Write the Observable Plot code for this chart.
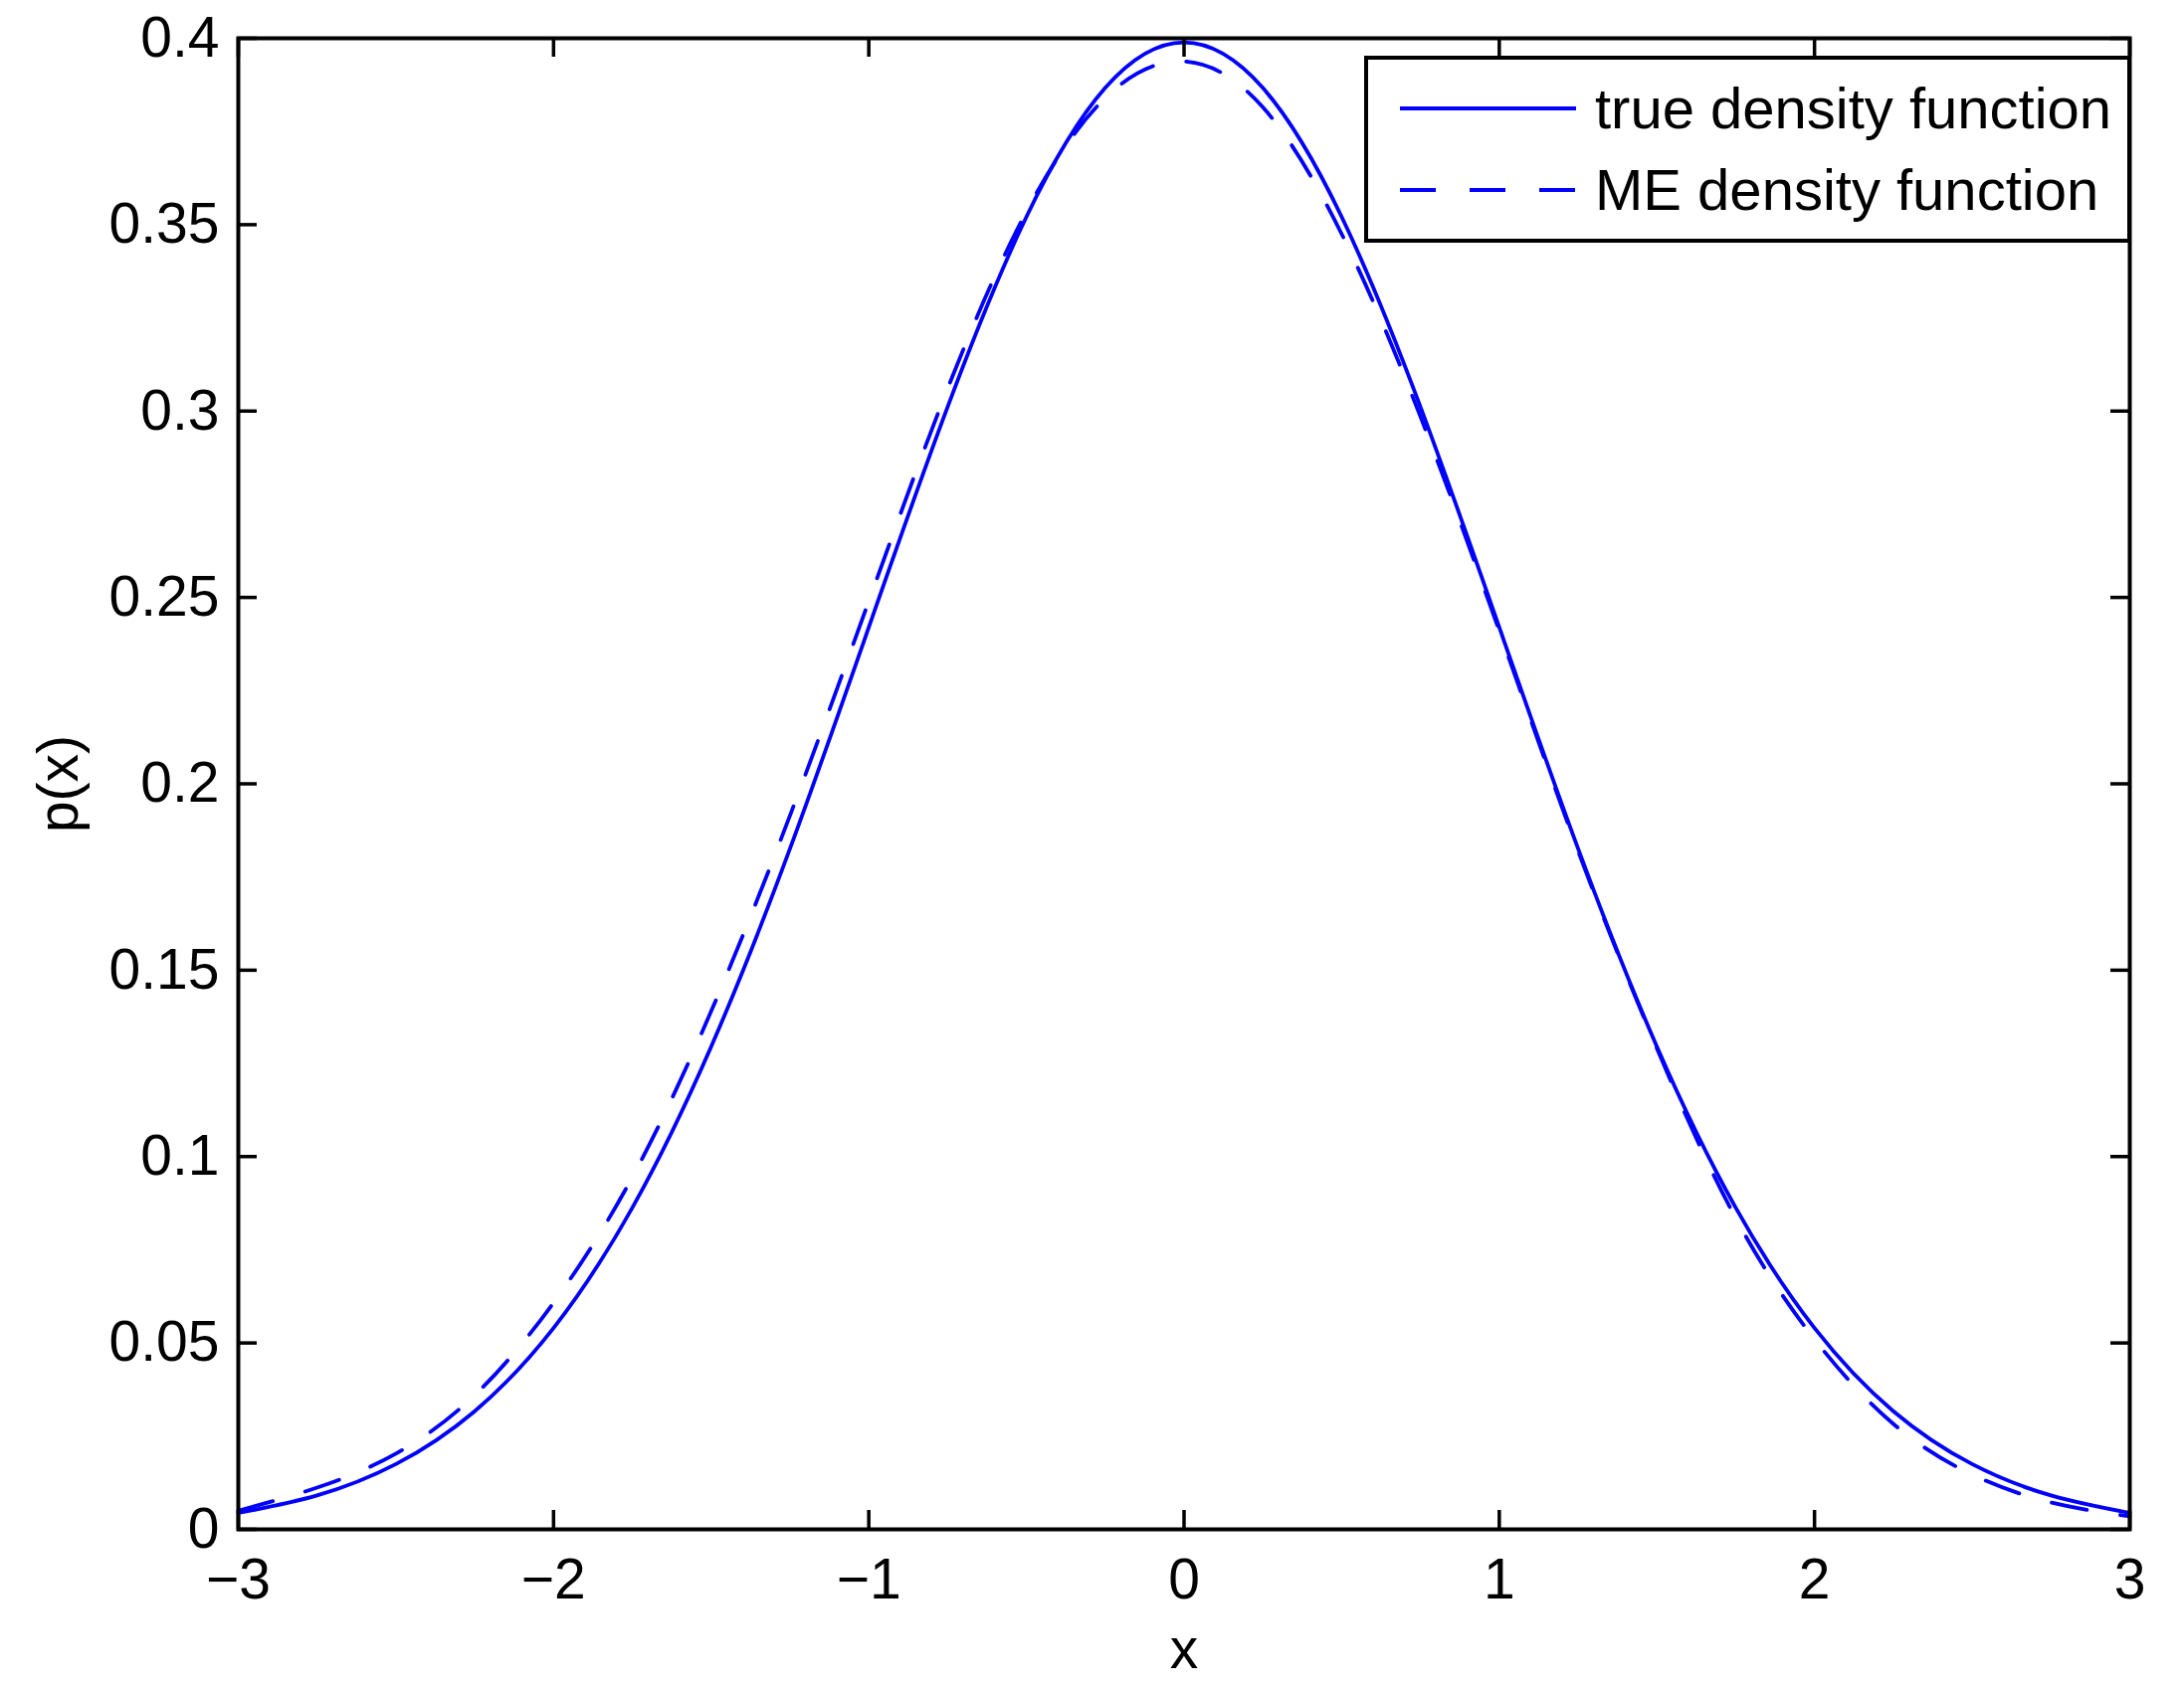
<!DOCTYPE html>
<html>
<head>
<meta charset="utf-8">
<script src="https://cdn.jsdelivr.net/npm/d3@7"></script>
<script src="https://cdn.jsdelivr.net/npm/@observablehq/plot@0.6"></script>
<style>
  html, body { margin: 0; padding: 0; background: #fff; overflow: hidden; }
  svg { display: block; }
</style>
</head>
<body>
<div id="chart"></div>
<script>
// ---- data ----
const xValues = [-3, -2.75, -2.5, -2.25, -2, -1.75, -1.5, -1.25, -1, -0.75, -0.5, -0.25, 0,
                 0.25, 0.5, 0.75, 1, 1.25, 1.5, 1.75, 2, 2.25, 2.5, 2.75, 3];
const trueDensity = [0.0044, 0.0091, 0.0175, 0.0317, 0.0540, 0.0863, 0.1295, 0.1826, 0.2420, 0.3011, 0.3521, 0.3867, 0.3989,
                     0.3867, 0.3521, 0.3011, 0.2420, 0.1826, 0.1295, 0.0863, 0.0540, 0.0317, 0.0175, 0.0091, 0.0044];
const meDensity   = [0.0050, 0.0112, 0.0203, 0.0360, 0.0608, 0.0945, 0.1390, 0.1915, 0.2490, 0.3060, 0.3535, 0.3840, 0.3938,
                     0.3815, 0.3475, 0.2985, 0.2410, 0.1820, 0.1290, 0.0835, 0.0510, 0.0283, 0.0147, 0.0072, 0.0035];
const seriesNames = ["true density function", "ME density function"];
const xTicks = [-3, -2, -1, 0, 1, 2, 3];
const yTicks = [0, 0.05, 0.1, 0.15, 0.2, 0.25, 0.3, 0.35, 0.4];
const xLabel = "x";
const yLabel = "p(x)";

// ---- tables built from the arrays ----
const trueRows = xValues.map((x, i) => ({x, y: trueDensity[i]}));
const meRows = xValues.map((x, i) => ({x, y: meDensity[i]}));

const W = 2195, H = 1698;
const mL = 239, mR = 55, mT = 38, mB = 161;
const plotW = W - mL - mR, plotH = H - mT - mB;
const tickLen = 19;
const FONT = "'Liberation Sans', Arial, Helvetica, sans-serif";
const fmt = d3.format("~g");
const LINE_W = 3.8;
const DASH = "36,34";

const chart = Plot.plot({
  width: W,
  height: H,
  marginLeft: mL,
  marginRight: mR,
  marginTop: mT,
  marginBottom: mB,
  style: {fontFamily: FONT, fontSize: "56px", color: "black", background: "white"},
  x: {domain: [-3, 3], ticks: xTicks, tickFormat: fmt},
  y: {domain: [0, 0.4], ticks: yTicks, tickFormat: fmt},
  marks: [
    Plot.line(trueRows, {x: "x", y: "y", stroke: "#0000ff", strokeWidth: LINE_W, curve: "natural"}),
    Plot.line(meRows, {x: "x", y: "y", stroke: "#0000ff", strokeWidth: LINE_W, curve: "natural", strokeDasharray: DASH}),
    // inward ticks on all four sides
    Plot.tickX(xTicks, {x: d => d, stroke: "black", strokeWidth: 3.5, insetTop: plotH - tickLen}),
    Plot.tickX(xTicks, {x: d => d, stroke: "black", strokeWidth: 3.5, insetBottom: plotH - tickLen}),
    Plot.tickY(yTicks, {y: d => d, stroke: "black", strokeWidth: 3.5, insetRight: plotW - tickLen}),
    Plot.tickY(yTicks, {y: d => d, stroke: "black", strokeWidth: 3.5, insetLeft: plotW - tickLen}),
    Plot.axisX(xTicks, {tickSize: 0, tickPadding: 29, fontSize: 57, tickFormat: fmt, label: null}),
    Plot.axisY(yTicks, {tickSize: 0, tickPadding: 19, fontSize: 57, tickFormat: fmt, label: null}),
    Plot.frame({stroke: "black", strokeWidth: 4}),
    Plot.text([xLabel], {frameAnchor: "bottom", dy: 121, lineAnchor: "middle", textAnchor: "middle", fontSize: 57, fill: "black"}),
    Plot.text([yLabel], {frameAnchor: "left", dx: -180, rotate: -90, lineAnchor: "middle", textAnchor: "middle", fontSize: 57, fill: "black"})
  ]
});

document.getElementById("chart").appendChild(chart);

// ---- legend (upper right, inside the axes) ----
const sx = chart.scale("x"), sy = chart.scale("y");
const frameRight = Math.max(...sx.range);
const frameTop = Math.min(...sy.range);
const boxW = 767, boxH = 184;
const bx = frameRight - boxW, by = frameTop + 20;
const svgSel = d3.select(chart);
const lg = svgSel.append("g")
  .attr("font-family", FONT)
  .attr("font-size", 58)
  .attr("text-anchor", "start");
lg.append("rect").attr("x", bx).attr("y", by).attr("width", boxW).attr("height", boxH)
  .attr("fill", "white").attr("stroke", "black").attr("stroke-width", 4);
const rowsY = [by + 51, by + 133];
const dashes = [null, DASH];
seriesNames.forEach((name, i) => {
  lg.append("line").attr("x1", bx + 34).attr("x2", bx + 211).attr("y1", rowsY[i]).attr("y2", rowsY[i])
    .attr("stroke", "#0000ff").attr("stroke-width", LINE_W).attr("stroke-dasharray", dashes[i]);
  lg.append("text").attr("x", bx + 230).attr("y", rowsY[i] + 20)
    .attr("text-anchor", "start").attr("fill", "black").text(name);
});
</script>
</body>
</html>
